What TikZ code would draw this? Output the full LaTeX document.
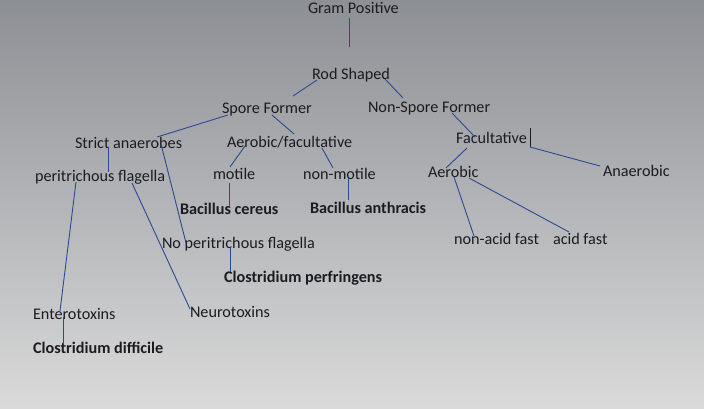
\documentclass[tikz,border=0pt]{standalone}
\usepackage{fontspec}
\setmainfont{Carlito}
\definecolor{bgtop}{RGB}{140,143,148}
\definecolor{bgmid}{RGB}{198,199,202}
\definecolor{bgbot}{RGB}{218,218,218}
\definecolor{linkblue}{RGB}{44,74,148}
\definecolor{inkc}{RGB}{28,28,32}
\begin{document}
\begin{tikzpicture}[x=1pt,y=-1pt,
  lbl/.style={anchor=base west,inner sep=0pt,outer sep=0pt,text=inkc,font=\fontsize{16.2}{18}\selectfont},
  blbl/.style={lbl,font=\fontsize{16.2}{18}\selectfont\bfseries},
  conn/.style={draw=linkblue,line width=0.9pt},
  cursorline/.style={draw=inkc,line width=0.9pt}]
\useasboundingbox (0,0) rectangle (704,408);
\shade[top color=bgtop, middle color=bgmid, bottom color=bgbot] (0,0) rectangle (704,408);
% nodes
\node[lbl] (gp)  at (308,13)  {Gram Positive};
\node[lbl] (rod) at (312,79)  {Rod Shaped};
\node[lbl] (sf)  at (222,113) {Spore Former};
\node[lbl] (nsf) at (368,112) {Non-Spore Former};
\node[lbl] (sa)  at (75,148)  {Strict anaerobes};
\node[lbl] (af)  at (227,147) {Aerobic/facultative};
\node[lbl] (fac) at (456,143) {Facultative};
\node[lbl] (pf)  at (35,181)  {peritrichous flagella};
\node[lbl] (mot) at (213,179) {motile};
\node[lbl] (nm)  at (303,179) {non-motile};
\node[lbl] (aer) at (428,177) {Aerobic};
\node[lbl] (ana) at (603,176) {Anaerobic};
\node[blbl] (bc) at (180,214) {Bacillus cereus};
\node[blbl] (ba) at (310,213) {Bacillus anthracis};
\node[lbl] (npf) at (162,248) {No peritrichous flagella};
\node[lbl] (naf) at (454,244) {non-acid fast};
\node[lbl] (acf) at (553,244) {acid fast};
\node[blbl] (cp) at (224,282) {Clostridium perfringens};
\node[lbl] (ent) at (33,319)  {Enterotoxins};
\node[lbl] (neu) at (190,317) {Neurotoxins};
\node[blbl] (cd) at (33,353)  {Clostridium difficile};
% connectors
\draw[conn] ([shift={(41,5)}]gp.base west) -- ([shift={(37,-32)}]rod.base west);
\draw[conn] ([shift={(5,1)}]rod.base west) -- ([shift={(71,-17)}]sf.base west);
\draw[conn] ([shift={(73,0)}]rod.base west) -- ([shift={(35,-14)}]nsf.base west);
\draw[conn] ([shift={(6,2)}]sf.base west) -- ([shift={(82,-11)}]sa.base west);
\draw[conn] ([shift={(50,2)}]sf.base west) -- ([shift={(67,-13)}]af.base west);
\draw[conn] ([shift={(84,1)}]nsf.base west) -- ([shift={(19,-6)}]fac.base west);
\draw[conn] ([shift={(33,-1)}]sa.base west) -- ([shift={(73,-9)}]pf.base west);
\draw[conn] ([shift={(86,-4)}]sa.base west) -- ([shift={(24,-5)}]npf.base west);
\draw[conn] ([shift={(18,-1)}]af.base west) -- ([shift={(17,-12)}]mot.base west);
\draw[conn] ([shift={(95,1)}]af.base west) -- ([shift={(30,-11)}]nm.base west);
\draw[conn] ([shift={(11,5)}]fac.base west) -- ([shift={(18,-9)}]aer.base west);
\draw[cursorline] ([shift={(74,-15)}]fac.base west) -- ([shift={(74,4)}]fac.base west) coordinate (cb);
\draw[conn] (cb) -- ([shift={(-3,-10)}]ana.base west);
\draw[conn] ([shift={(41,1)}]pf.base west) -- ([shift={(27,-8)}]ent.base west);
\draw[conn] ([shift={(97,2)}]pf.base west) -- ([shift={(0,-8)}]neu.base west);
\draw[conn] ([shift={(16,4)}]mot.base west) -- ([shift={(49,-7)}]bc.base west);
\draw[conn] ([shift={(45,-1)}]nm.base west) -- ([shift={(38,-13)}]ba.base west);
\draw[conn] ([shift={(26,0)}]aer.base west) -- ([shift={(20,-8)}]naf.base west);
\draw[conn] ([shift={(41,1)}]aer.base west) -- ([shift={(16,-12)}]acf.base west);
\draw[conn] ([shift={(68,0)}]npf.base west) -- ([shift={(6,-10)}]cp.base west);
\draw[conn] ([shift={(30,-2)}]ent.base west) -- ([shift={(30,-9)}]cd.base west);
\end{tikzpicture}
\end{document}
